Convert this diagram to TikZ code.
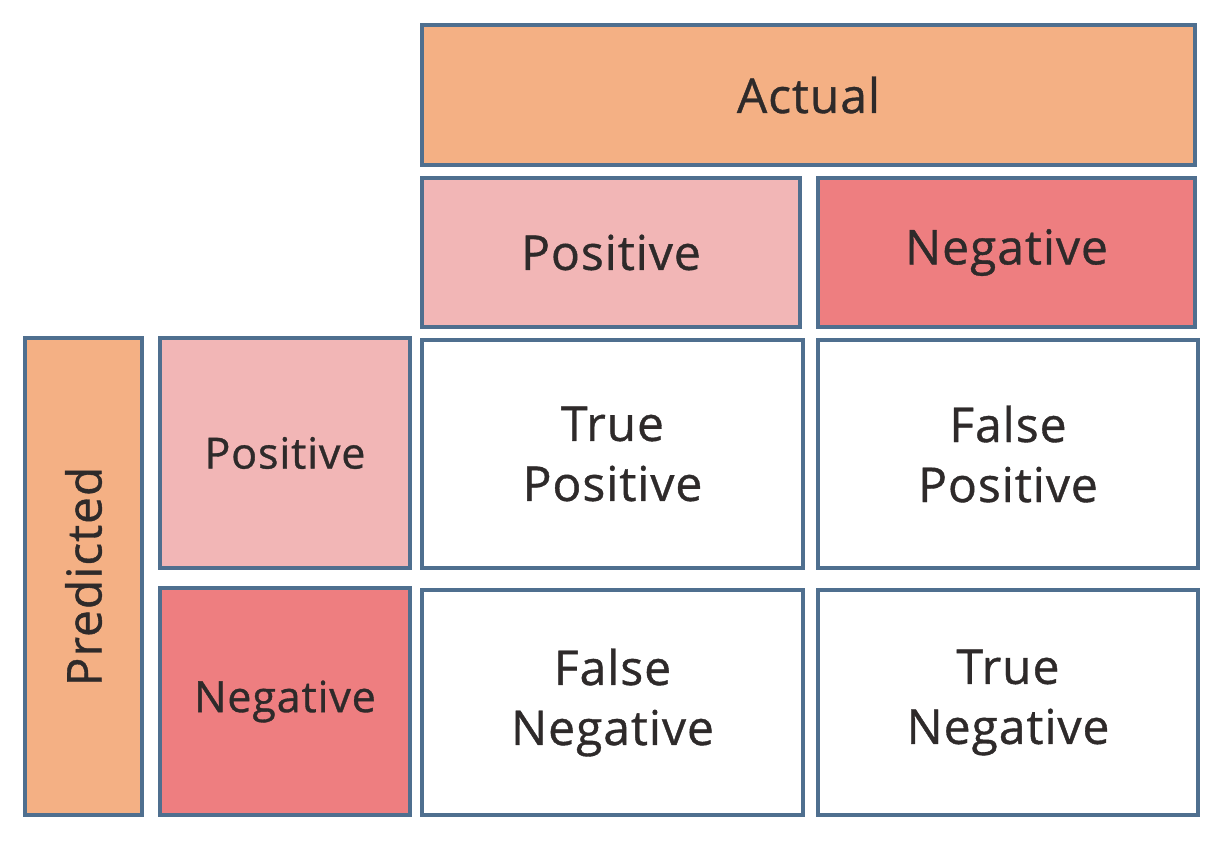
\documentclass[tikz,border=0pt]{standalone}
\usepackage{fontspec}
\setmainfont{Open Sans}[FakeBold=0.8,LetterSpace=2]
\definecolor{org}{HTML}{F4B084}
\definecolor{lpink}{HTML}{F2B6B6}
\definecolor{dpink}{HTML}{EE7E80}
\definecolor{bord}{HTML}{4F6F8F}
\definecolor{txt}{HTML}{2E2A2A}
\begin{document}
\begin{tikzpicture}[x=1pt,y=-1pt,
 box/.style={draw=bord,line width=3.5pt,text=txt,font=\fontsize{48}{60}\selectfont,align=center,inner sep=0pt}]
\useasboundingbox (0,0) rectangle (1222,840);
\fill[white] (0,0) rectangle (1222,840);
\node[box,fill=org,minimum width=773,minimum height=140] (act) at (808.5,95) {Actual};
\node[box,fill=lpink,minimum width=378,minimum height=149] (ap) at (611,252.5) {Positive};
\node[box,fill=dpink,minimum width=377,minimum height=149] (an) at (1006.5,252.5) {Negative};
\node[box,fill=org,minimum width=117,minimum height=477] (pred) at (83.5,576.5) {};
\node[text=txt,font=\fontsize{48}{60}\selectfont,rotate=90] (predt) at (pred) {Predicted};
\node[box,fill=lpink,minimum width=250,minimum height=230,font=\fontsize{43}{54}\selectfont] (pp) at (285,453) {Positive};
\node[box,fill=dpink,minimum width=250,minimum height=227,font=\fontsize{43}{54}\selectfont] (pn) at (285,701.5) {Negative};
\node[box,fill=white,minimum width=381,minimum height=228] (tp) at (612.5,454) {True\\Positive};
\node[box,fill=white,minimum width=380,minimum height=228] (fp) at (1008,454) {False\\Positive};
\node[box,fill=white,minimum width=381,minimum height=225] (fn) at (612.5,702.5) {False\\Negative};
\node[box,fill=white,minimum width=380,minimum height=225] (tn) at (1008,702.5) {True\\Negative};
\end{tikzpicture}
\end{document}
